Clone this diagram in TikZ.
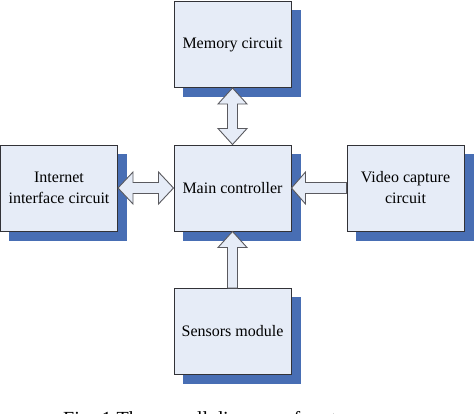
\documentclass[tikz,border=0pt]{standalone}
\usepackage{fontspec}
\setmainfont{Liberation Serif}
\usetikzlibrary{calc}
\definecolor{boxfill}{RGB}{230,236,247}
\definecolor{shadowc}{RGB}{72,110,180}
\definecolor{boxline}{RGB}{50,50,55}
\definecolor{arrline}{RGB}{90,90,95}
\tikzset{
  blk/.style={draw=boxline, fill=boxfill, line width=1pt, minimum width=117pt, minimum height=86pt,
    inner sep=2pt, align=center, font=\fontsize{16}{21}\selectfont},
  barrow/.style={draw=arrline, fill=boxfill, line width=0.9pt, line join=miter},
  shad/.style={fill=shadowc}
}
\begin{document}
\begin{tikzpicture}[x=1pt,y=-1pt]
\useasboundingbox (0,0) rectangle (474,413);
% nodes
\node[blk] (mem)  at (232.5,44.5) {Memory circuit};
\node[blk] (int)  at (59,188)    {Internet\\interface circuit};
\node[blk] (main) at (232.5,188) {Main controller};
\node[blk] (vid)  at (405.5,188) {Video capture\\circuit};
\node[blk] (sens) at (232.5,331.5) {Sensors module};
% shadows, then boxes drawn again on top
\foreach \n in {mem,int,main,vid,sens}{
  \fill[shad] ($(\n.north west)+(9,9)$) rectangle ($(\n.south east)+(9,9)$);
}
\node[blk] at (mem)  {Memory circuit};
\node[blk] at (int)  {Internet\\interface circuit};
\node[blk] at (main) {Main controller};
\node[blk] at (vid)  {Video capture\\circuit};
\node[blk] at (sens) {Sensors module};
% memory <-> main
\draw[barrow] (mem.south) -- ++(14.5,16) -- ++(-9.5,0) -- ($(main.north)+(5,-16)$) -- ++(9.5,0)
  -- (main.north) -- ++(-14.5,-16) -- ++(9.5,0) -- ($(mem.south)+(-5,16)$) -- ++(-9.5,0) -- cycle;
% internet <-> main
\draw[barrow] (int.east) -- ++(15,-16) -- ++(0,10.5) -- ($(main.west)+(-15,-5.5)$) -- ++(0,-10.5)
  -- (main.west) -- ++(-15,16) -- ++(0,-10.5) -- ($(int.east)+(15,5.5)$) -- ++(0,10.5) -- cycle;
% video -> main
\draw[barrow] (main.east) -- ++(14,-16) -- ++(0,10.5) -- ($(vid.west)+(0,-5.5)$) -- ++(0,11)
  -- ($(main.east)+(14,5.5)$) -- ++(0,10.5) -- cycle;
% sensors -> main
\draw[barrow] (main.south) -- ++(14.5,16) -- ++(-9.5,0) -- ($(sens.north)+(5,0)$) -- ++(-10,0)
  -- ($(main.south)+(-5,16)$) -- ++(-9.5,0) -- cycle;
% caption (cut off by the picture's lower edge, as in the reference)
\node[anchor=base west, inner sep=0pt, font=\fontsize{20}{24}\selectfont] (cap) at (63,425.5)
  {Fig. 1 The overall diagram of system};
\end{tikzpicture}
\end{document}
